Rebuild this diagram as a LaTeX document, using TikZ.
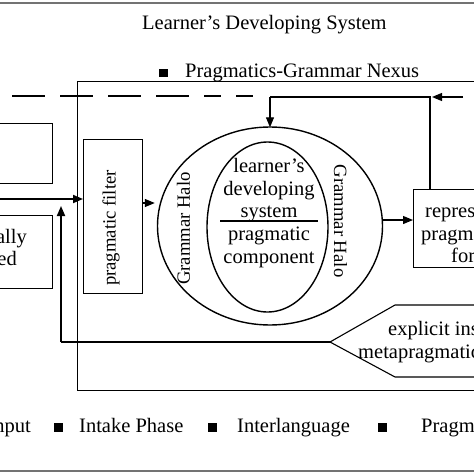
\documentclass[tikz,border=0pt]{standalone}
\usepackage{fontspec}
\setmainfont{Liberation Serif}
\usetikzlibrary{arrows.meta,shapes.geometric}
\begin{document}
\begin{tikzpicture}[x=1pt,y=-1pt,
  txt/.style={inner sep=0pt,font=\fontsize{20.5}{22.7}\selectfont},
  rtxt/.style={inner sep=0pt,font=\fontsize{18.7}{20}\selectfont},
  boxx/.style={draw,line width=1.1pt,inner sep=0pt,anchor=north west},
  ell/.style={draw,ellipse,line width=1.4pt,inner sep=0pt},
  ln/.style={line width=1.1pt},
  arr/.style={line width=1.2pt,-{Triangle[length=10pt,width=8pt]}},
  frame/.style={draw=black!55,line width=2pt},
  bullet/.style={fill=black}]
\useasboundingbox (0,0) rectangle (474,474);
\clip (0,0) rectangle (474,474);
\fill[white] (0,0) rectangle (474,474);
% frame lines
\coordinate (ftl) at (-5,3); \coordinate (ftr) at (480,3);
\coordinate (fbl0) at (-5,471); \coordinate (fbr0) at (480,471);
\draw[frame] (ftl) -- (ftr);
\draw[frame] (fbl0) -- (fbr0);
% titles
\node[txt,anchor=base west] (title) at (142,29) {Learner’s Developing System};
\fill[bullet] (158.5,68.5) rectangle (168,77);
\node[txt,anchor=base west] (nexlab) at (185,77) {Pragmatics-Grammar Nexus};
% boxes
\node[boxx,line width=1pt,minimum width=463pt,minimum height=309pt] (nexus) at (77,81) {};
\node[boxx,minimum width=112pt,minimum height=60pt] (ulbox) at (-60,123) {};
\node[boxx,minimum width=112pt,minimum height=73pt] (llbox) at (-60,215) {};
\node[txt,anchor=base east] (llt1) at (27,243) {pragmatically};
\node[txt,anchor=base east] (llt2) at (17,265) {noticed};
\node[boxx,minimum width=59pt,minimum height=154pt] (filter) at (83,139) {};
\node[rtxt,rotate=90] (filtlab) at (111,228) {pragmatic filter};
\node[ell,minimum width=225pt,minimum height=198pt] (halo) at (270,226) {};
\node[ell,minimum width=121pt,minimum height=170pt] (core) at (267.5,227) {};
\node[rtxt,rotate=90] (halol) at (183.5,228.5) {Grammar Halo};
\node[rtxt,rotate=-90] (halor) at (340.5,221) {Grammar Halo};
\node[txt,anchor=base] (c1) at (269,172) {learner’s};
\node[txt,anchor=base] (c2) at (269,195) {developing};
\node[txt,anchor=base] (c3) at (269,217) {system};
\node[txt,anchor=base] (c4) at (269,240) {pragmatic};
\node[txt,anchor=base] (c5) at (269,263) {component};
\coordinate (sepl) at (220,221); \coordinate (sepr) at (318,221);
\draw[ln] (sepl) -- (sepr);
\node[boxx,minimum width=127pt,minimum height=78pt] (rep) at (413,189) {};
\node[txt,anchor=base west] (r1) at (425,217) {representation};
\node[txt,anchor=base west] (r2) at (421,240) {pragmatic};
\node[txt,anchor=base west] (r3) at (451,262) {form};
% pentagon
\coordinate (ptr) at (540,305); \coordinate (ptl) at (395,305);
\coordinate (tip) at (330,342);
\coordinate (pbl) at (395,377); \coordinate (pbr) at (540,377);
\draw[ln] (ptr) -- (ptl) -- (tip) -- (pbl) -- (pbr);
\node[txt,anchor=base west] (p1) at (388,335) {explicit instruction};
\node[txt,anchor=base west] (p2) at (358,358) {metapragmatic information};
% connectors
\coordinate (inL) at (-5,199);
\draw[arr,line width=1.8pt] (inL) -- (inL -| filter.west);
\coordinate (y203) at (0,203);
\draw[arr] (filter.east |- y203) -- ([xshift=-2pt]halo.west |- y203);
\coordinate (y220) at (382,220);
\draw[arr] (y220) -- (y220 -| rep.west);
\coordinate (fb) at (430,97); \coordinate (fb2) at (270,97);
\draw[ln] ([xshift=17pt]rep.north west) -- (fb) -- (fb2);
\draw[arr] (fb2) -- ([yshift=-1pt]halo.north);
\coordinate (rin) at (463,97);
\draw[arr] (rin) -- ([xshift=2pt]fb);
\coordinate (fbl) at (61,342); \coordinate (fbt) at (61,206);
\draw[ln] (tip) -- (fbl);
\draw[arr,line width=1.8pt] (fbl) -- (fbt);
% dashed line
\coordinate (d0) at (12,96); \coordinate (d1) at (253,96);
\draw[line width=1.1pt,dash pattern=on 33pt off 15pt on 33pt off 15pt on 33pt off 15pt on 33pt off 15pt on 17pt off 15pt on 17pt off 100pt] (d0) -- (d1);
% legend
\node[txt,anchor=base east] (lg1) at (31,432) {Input};
\fill[bullet] (53.5,422.5) rectangle (63,432);
\node[txt,anchor=base west] (lg2) at (79,432) {Intake Phase};
\fill[bullet] (207.5,422.5) rectangle (217,432);
\node[txt,anchor=base west] (lg3) at (237,432) {Interlanguage};
\fill[bullet] (377.5,422.5) rectangle (387,432);
\node[txt,anchor=base west] (lg4) at (421,432) {Pragmatic Output};
\end{tikzpicture}
\end{document}
